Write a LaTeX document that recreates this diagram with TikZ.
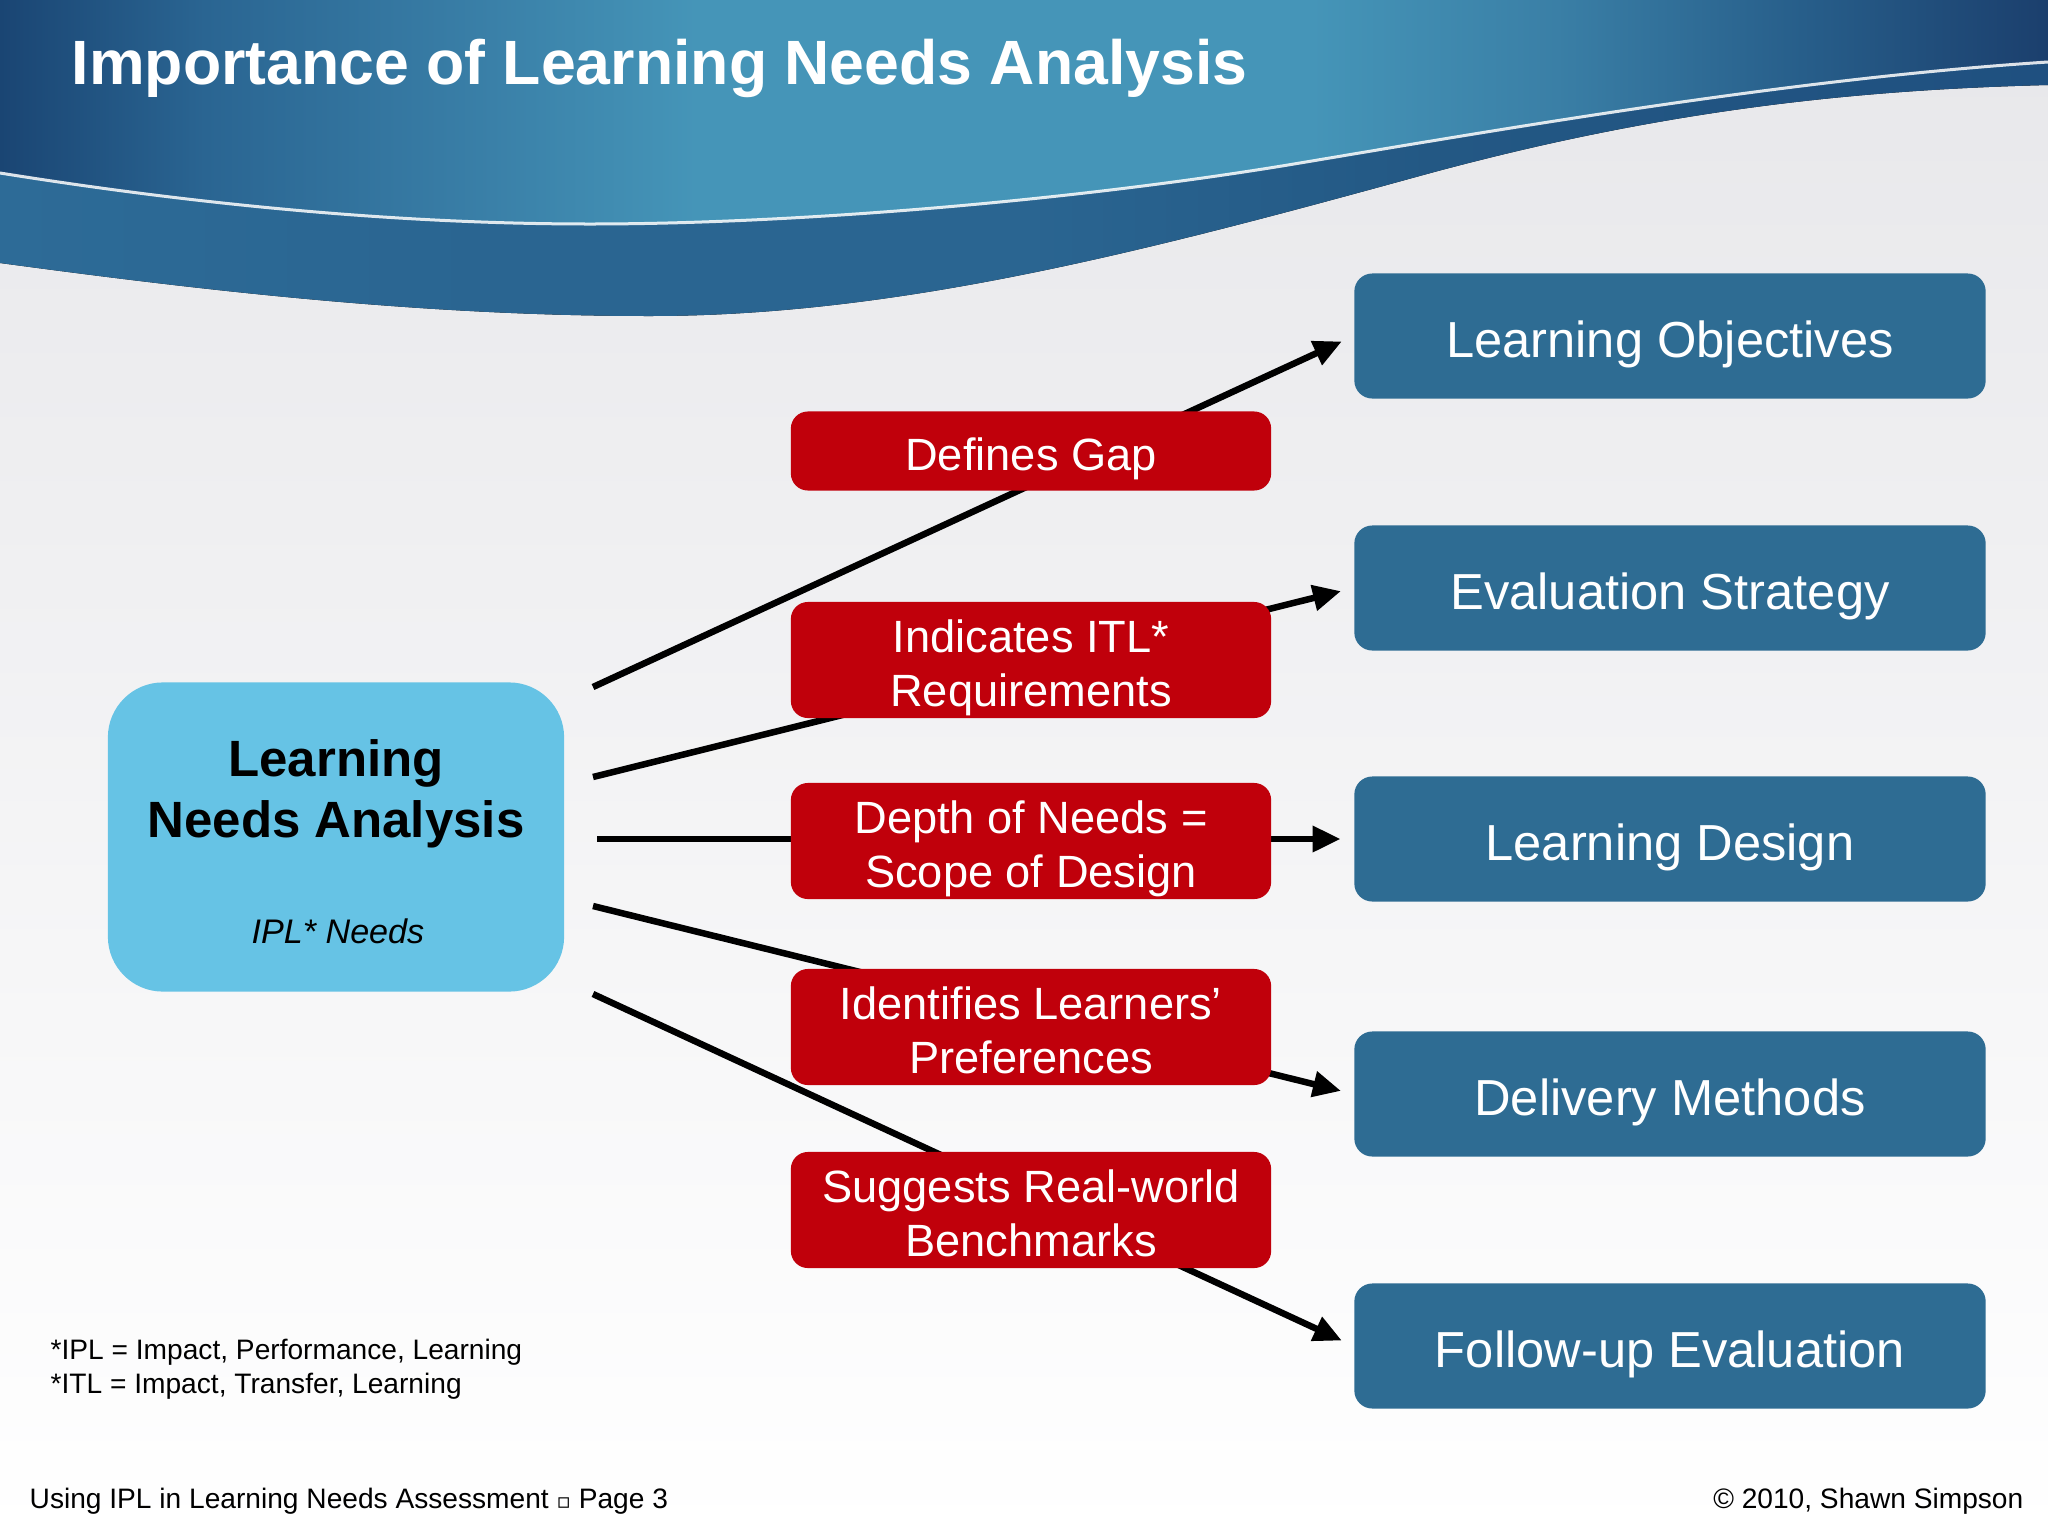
\documentclass[tikz,border=0pt]{standalone}
\usepackage{fontspec}
\setmainfont{Liberation Sans}
\newfontfamily\dejavu{DejaVu Sans}
\usetikzlibrary{arrows.meta}
\definecolor{navyL}{HTML}{1A4573}
\definecolor{tbA}{HTML}{2A6592}
\definecolor{tbB}{HTML}{3A80A8}
\definecolor{tbC}{HTML}{4595B8}
\definecolor{tbD}{HTML}{3A7FA6}
\definecolor{tbE}{HTML}{275E8A}
\definecolor{navyR}{HTML}{1B3F6D}
\definecolor{lbA}{HTML}{2D6B97}
\definecolor{lbB}{HTML}{2A6591}
\definecolor{lbC}{HTML}{235884}
\definecolor{lbD}{HTML}{1F5080}
\definecolor{bgtop}{HTML}{E7E7EA}
\definecolor{lnablue}{HTML}{66C3E5}
\definecolor{boxred}{HTML}{C0000B}
\definecolor{boxblue}{HTML}{2E6C93}
\pgfdeclarehorizontalshading{topband}{100bp}{color(0bp)=(navyL); color(25bp)=(navyL); color(30bp)=(tbA); color(37bp)=(tbB); color(42bp)=(tbC); color(57bp)=(tbC); color(63bp)=(tbD); color(69bp)=(tbE); color(75bp)=(navyR); color(100bp)=(navyR)}
\pgfdeclarehorizontalshading{lowband}{100bp}{color(0bp)=(lbA); color(25bp)=(lbA); color(37bp)=(lbB); color(50bp)=(lbB); color(60bp)=(lbC); color(75bp)=(lbD); color(100bp)=(lbD)}
\tikzset{
  lnabox/.style={fill=lnablue, rounded corners=0.55cm, minimum width=4.56cm, minimum height=3.09cm, inner sep=0pt},
  redbox/.style={fill=boxred, rounded corners=0.17cm, minimum width=4.8cm, text=white, font=\fontsize{12.86}{15.3}\selectfont, align=center, text depth=0pt, inner sep=0pt},
  oneline/.style={minimum height=0.79cm, text height=0.39cm},
  twoline/.style={minimum height=1.16cm, text height=0.93cm},
  bluebox/.style={fill=boxblue, rounded corners=0.18cm, minimum width=6.31cm, minimum height=1.25cm, text=white, font=\fontsize{14.4}{17}\selectfont, text height=0.43cm, text depth=0pt, inner sep=0pt},
  arr/.style={line width=0.065cm, -{Triangle[length=0.28cm,width=0.25cm]}, shorten >=0.13cm},
  smalltext/.style={font=\fontsize{8}{9.7}\selectfont, inner sep=0pt}
}
\begin{document}
\begin{tikzpicture}[x=0.01cm, y=-0.01cm]
\useasboundingbox (0,0) rectangle (2048,1536);
% background
\fill[top color=bgtop, bottom color=white] (0,0) rectangle (2048,1536);
% banner lower band
\fill[shading=lowband] (0,0) -- (0,263) .. controls (200,290) and (420,316) .. (650,316) .. controls (900,316) and (1150,250) .. (1416,177) .. controls (1655,111) and (1850,90) .. (2048,85) -- (2048,0) -- cycle;
% banner upper band
\fill[shading=topband] (0,0) -- (0,173) .. controls (200,205) and (400,224) .. (590,224) .. controls (800,224) and (1080,200) .. (1300,163) .. controls (1520,126) and (1800,78) .. (2048,62) -- (2048,0) -- cycle;
\draw[white, opacity=0.85, line width=0.03cm] (0,173) .. controls (200,205) and (400,224) .. (590,224) .. controls (800,224) and (1080,200) .. (1300,163) .. controls (1520,126) and (1800,78) .. (2048,62);
% title
\node[anchor=base west, text=white, font=\bfseries\fontsize{17.8}{21}\selectfont, inner sep=0pt] (title) at (71,84) {Importance of Learning Needs Analysis};
% left box
\node[lnabox] (lna) at (336,837) {};
\node[anchor=base, font=\bfseries\fontsize{14.5}{17}\selectfont, inner sep=0pt] (lna1) at (336,776) {Learning};
\node[anchor=base, font=\bfseries\fontsize{14.5}{17}\selectfont, inner sep=0pt] (lna2) at (336,837) {Needs Analysis};
\node[anchor=base, font=\itshape\fontsize{9.7}{12}\selectfont, inner sep=0pt] (lna3) at (338,943) {IPL* Needs};
% blue boxes
\node[bluebox] (lo) at (1670,336) {Learning Objectives};
\node[bluebox] (es) at (1670,588) {Evaluation Strategy};
\node[bluebox] (ld) at (1670,839) {Learning Design};
\node[bluebox] (dm) at (1670,1094) {Delivery Methods};
\node[bluebox] (fe) at (1670,1346) {Follow-up Evaluation};
% arrow starts
\coordinate (s1) at (593,687);
\coordinate (s2) at (593,777);
\coordinate (s3) at (597,839);
\coordinate (s4) at (593,906);
\coordinate (s5) at (593,994);
\draw[arr] (s1) -- (lo.west);
\draw[arr] (s2) -- (es.west);
\draw[arr] (s3) -- (ld.west);
\draw[arr] (s4) -- (dm.west);
\draw[arr] (s5) -- (fe.west);
% red boxes
\node[redbox, oneline] (dg) at (1031,451) {Defines Gap};
\node[redbox, twoline] (itl) at (1031,660) {Indicates ITL*\\Requirements};
\node[redbox, twoline] (dn) at (1031,841) {Depth of Needs =\\Scope of Design};
\node[redbox, twoline] (il) at (1031,1027) {Identifies Learners’\\Preferences};
\node[redbox, twoline] (sr) at (1031,1210) {Suggests Real-world\\Benchmarks};
% footnotes
\node[smalltext, anchor=base west] (fn1) at (50,1359) {*IPL = Impact, Performance, Learning};
\node[smalltext, anchor=base west] (fn2) at (50,1393) {*ITL = Impact, Transfer, Learning};
% footer
\node[smalltext, anchor=base west] (foot) at (29,1508) {Using IPL in Learning Needs Assessment {\dejavu\fontsize{6}{7}\selectfont ▫} Page 3};
\node[smalltext, anchor=base east] (copy) at (2024,1508) {© 2010, Shawn Simpson};
\end{tikzpicture}
\end{document}
